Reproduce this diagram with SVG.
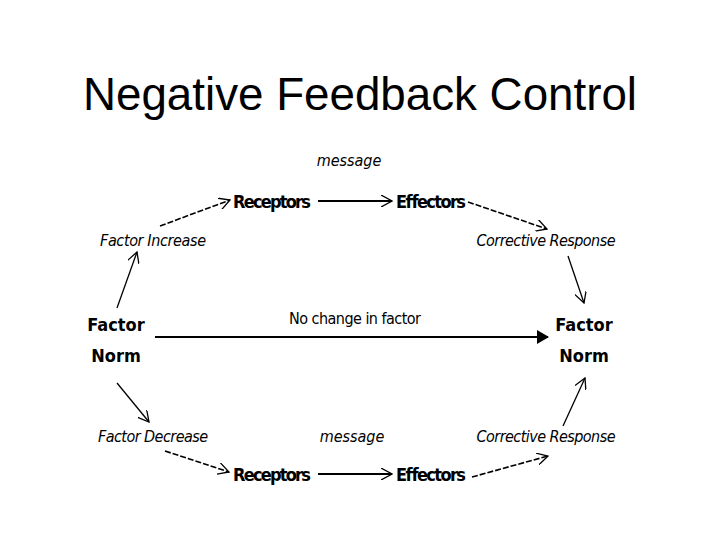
<svg xmlns="http://www.w3.org/2000/svg" width="720" height="540" viewBox="0 0 720 540">
<defs>
<marker id="open" viewBox="0 0 12 12" refX="11" refY="6" markerWidth="12" markerHeight="12" markerUnits="userSpaceOnUse" orient="auto">
<path d="M0,0 L11,6 L0,12" fill="none" stroke="#000" stroke-width="1.3"/>
</marker>
<marker id="solid" viewBox="0 0 12 14" refX="11" refY="7" markerWidth="12" markerHeight="14" markerUnits="userSpaceOnUse" orient="auto">
<path d="M0,0 L12,7 L0,14 Z" fill="#000"/>
</marker>
</defs>
<style>
.title{font-family:"Liberation Sans",Arial,sans-serif;font-size:46px;fill:#000}
.b{font-family:"DejaVu Sans Condensed","DejaVu Sans",sans-serif;font-weight:bold;font-size:18px;fill:#000}
.i{font-family:"DejaVu Sans Condensed","DejaVu Sans",sans-serif;font-style:italic;font-size:16px;fill:#000}
.n{font-family:"DejaVu Sans Condensed","DejaVu Sans",sans-serif;font-size:16px;fill:#000}
.l{stroke:#000;stroke-width:1.3;fill:none}
.d{stroke:#000;stroke-width:1.6;fill:none;stroke-dasharray:6 2}
.t{stroke:#000;stroke-width:2;fill:none}
</style>
<rect width="720" height="540" fill="#fff"/>
<text class="title" x="360" y="110" text-anchor="middle" textLength="554" lengthAdjust="spacingAndGlyphs">Negative Feedback Control</text>
<g id="msg-top"><text class="i" x="349" y="166" text-anchor="middle">message</text></g>
<g id="receptors-top"><text class="b" x="272" y="208" text-anchor="middle" textLength="78">Receptors</text></g>
<g id="effectors-top"><text class="b" x="431" y="208" text-anchor="middle" textLength="70">Effectors</text></g>
<g id="factor-increase"><text class="i" x="153" y="246" text-anchor="middle" textLength="106">Factor Increase</text></g>
<g id="corrective-top"><text class="i" x="546" y="246" text-anchor="middle" textLength="139">Corrective Response</text></g>
<g id="norm-left"><text class="b" x="116" y="331" text-anchor="middle">Factor</text><text class="b" x="116" y="362" text-anchor="middle">Norm</text></g>
<g id="norm-right"><text class="b" x="584" y="331" text-anchor="middle">Factor</text><text class="b" x="584" y="362" text-anchor="middle">Norm</text></g>
<g id="no-change"><text class="n" x="355" y="324" text-anchor="middle" textLength="132">No change in factor</text></g>
<g id="factor-decrease"><text class="i" x="153" y="442" text-anchor="middle" textLength="110">Factor Decrease</text></g>
<g id="msg-bottom"><text class="i" x="352" y="442" text-anchor="middle">message</text></g>
<g id="corrective-bottom"><text class="i" x="546" y="442" text-anchor="middle" textLength="139">Corrective Response</text></g>
<g id="receptors-bottom"><text class="b" x="272" y="481" text-anchor="middle" textLength="78">Receptors</text></g>
<g id="effectors-bottom"><text class="b" x="431" y="481" text-anchor="middle" textLength="70">Effectors</text></g>
<g id="connectors">
<line class="d" x1="160" y1="226" x2="230" y2="200" marker-end="url(#open)"/>
<line class="t" x1="318" y1="201" x2="392" y2="201" marker-end="url(#open)"/>
<line class="d" x1="468" y1="202" x2="547" y2="229" marker-end="url(#open)"/>
<line class="l" x1="568" y1="256" x2="584" y2="303" marker-end="url(#open)"/>
<line class="l" x1="117" y1="308" x2="137" y2="252" marker-end="url(#open)"/>
<line class="t" x1="155" y1="337" x2="548" y2="337" marker-end="url(#solid)"/>
<line class="l" x1="117" y1="383" x2="149" y2="422" marker-end="url(#open)"/>
<line class="d" x1="165" y1="451" x2="229" y2="472" marker-end="url(#open)"/>
<line class="t" x1="318" y1="474" x2="392" y2="474" marker-end="url(#open)"/>
<line class="d" x1="472" y1="477" x2="548" y2="456" marker-end="url(#open)"/>
<line class="l" x1="563" y1="426" x2="585" y2="378" marker-end="url(#open)"/>
</g>
</svg>
